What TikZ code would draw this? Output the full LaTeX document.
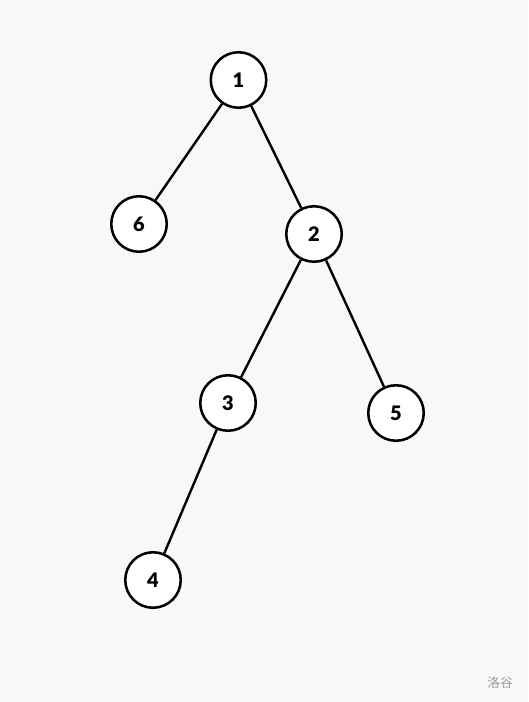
\documentclass[tikz,border=0pt]{standalone}
\usepackage{fontspec}
\setmainfont{Lato}
\newfontfamily\heavy{Lato Black}
\newfontfamily\cjk{Noto Sans CJK SC}
\definecolor{bg}{HTML}{F8F8F8}
\definecolor{wm}{HTML}{9A9A9A}
\begin{document}
\begin{tikzpicture}[x=0.75pt,y=-0.75pt,
  treenode/.style={circle,draw=black,fill=white,line width=1.9pt,minimum size=55.5*0.75pt,inner sep=0pt,font=\heavy\fontsize{15}{17}\selectfont},
  edge/.style={line width=1.8pt}]
\fill[bg] (0,0) rectangle (528,702);
\useasboundingbox (0,0) rectangle (528,702);
\node[treenode] (n1) at (238.5,80) {1};
\node[treenode] (n6) at (139,224) {6};
\node[treenode] (n2) at (314,234) {2};
\node[treenode] (n3) at (228,403) {3};
\node[treenode] (n5) at (396,413) {5};
\node[treenode] (n4) at (153,580) {4};
\draw[edge] (n1) -- (n6);
\draw[edge] (n1) -- (n2);
\draw[edge] (n2) -- (n3);
\draw[edge] (n2) -- (n5);
\draw[edge] (n3) -- (n4);
\node[text=wm,font=\cjk\fontsize{9.5}{11}\selectfont] (wmk) at (500,683) {洛谷};
\end{tikzpicture}
\end{document}
